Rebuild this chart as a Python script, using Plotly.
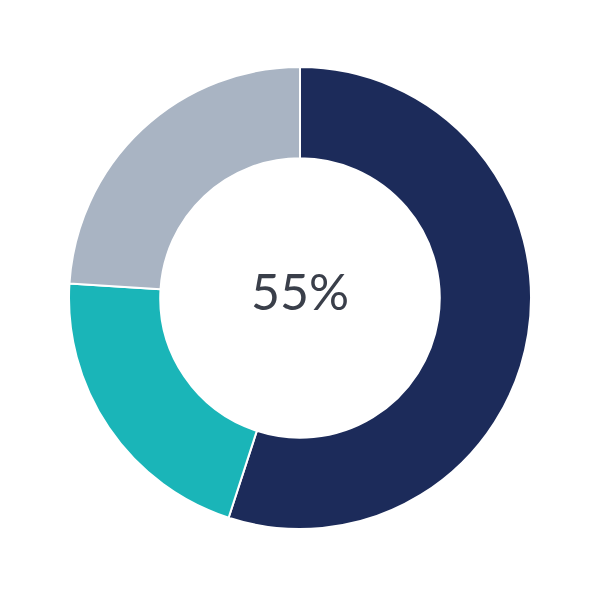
import plotly.graph_objects as go

# slice data
labels = ["A", "B", "C"]
values = [55, 21, 24]
colors = ["#1c2b5a", "#1ab5b8", "#a9b4c3"]
center_text = "55%"

fig = go.Figure(go.Pie(
    labels=labels,
    values=values,
    hole=0.605,
    sort=False,
    direction="clockwise",
    rotation=0,
    marker=dict(colors=colors, line=dict(color="white", width=2)),
    textinfo="none",
    hoverinfo="label+percent",
))

fig.add_annotation(
    text=center_text, x=0.5, y=0.5, xref="paper", yref="paper",
    showarrow=False, yshift=7,
    font=dict(family="Lato", size=50, color="#3a3f4a"),
)

# body has an 8px default margin, so shift the plot area back
fig.update_layout(
    width=600, height=599,
    margin=dict(l=61, r=77, t=59, b=78),
    showlegend=False,
    paper_bgcolor="white",
)

fig.write_html("out.html")
